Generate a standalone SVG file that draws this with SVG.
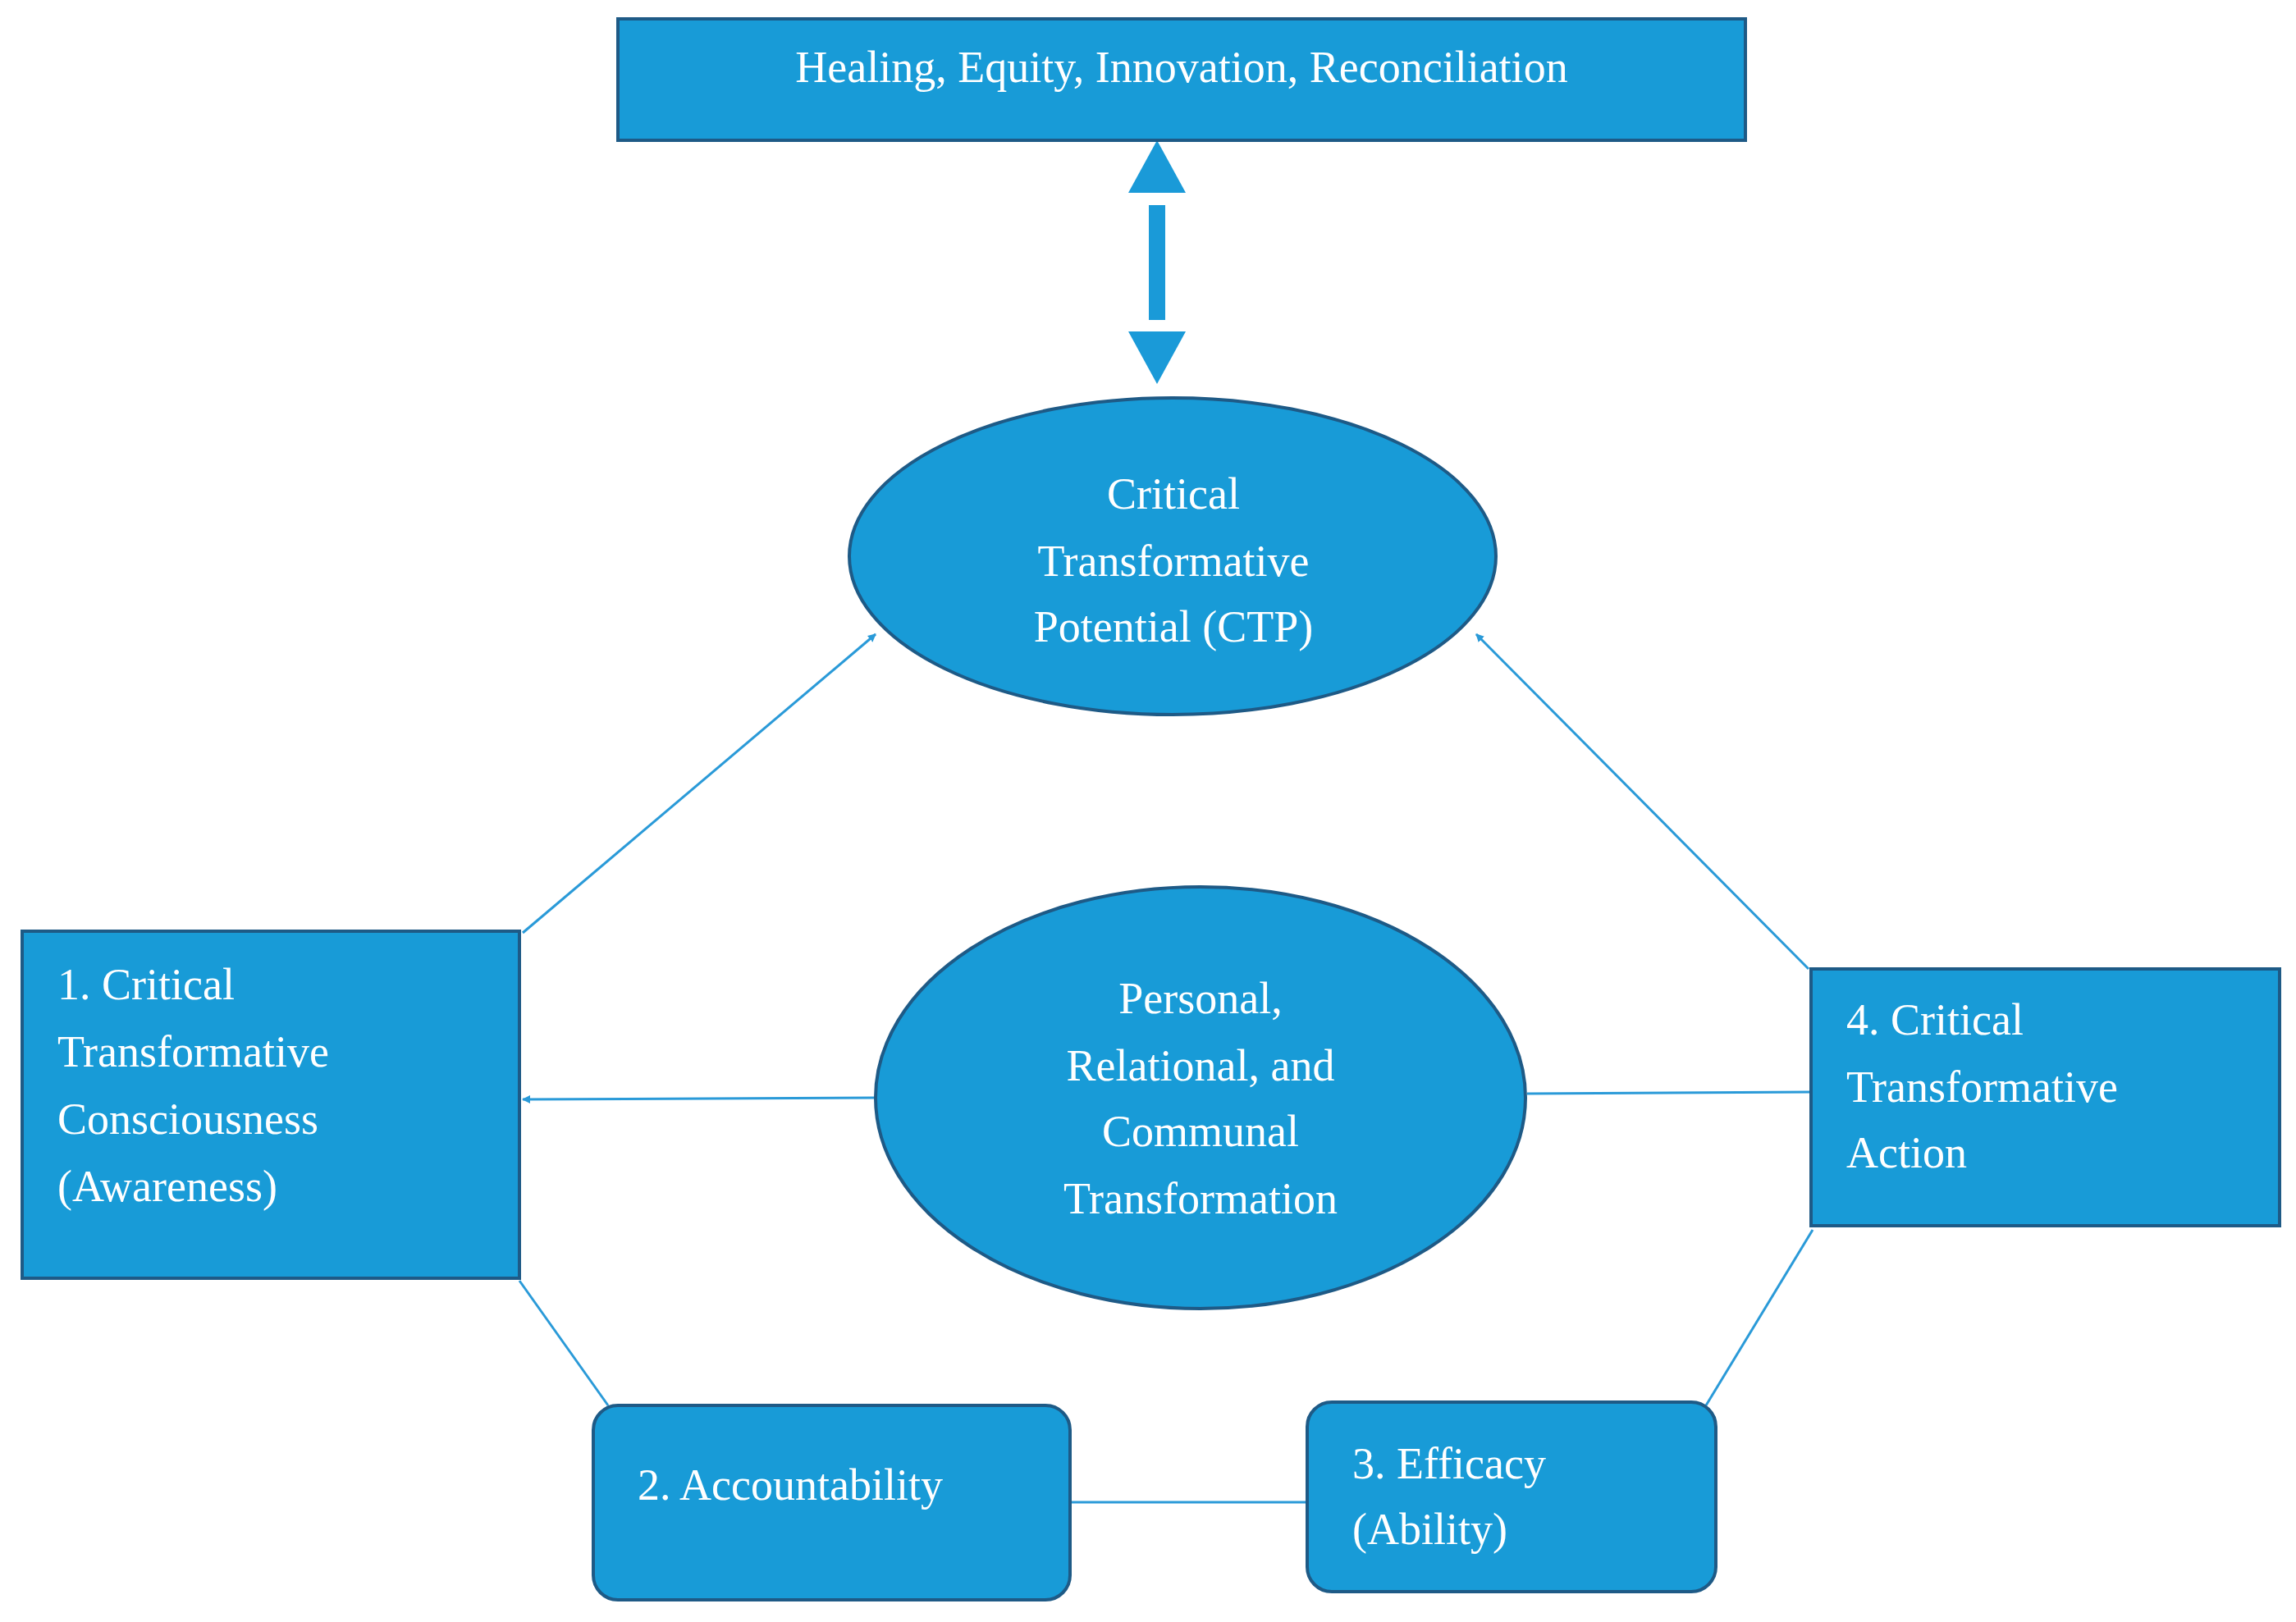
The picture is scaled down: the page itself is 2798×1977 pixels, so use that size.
<svg xmlns="http://www.w3.org/2000/svg" width="2798" height="1977" viewBox="0 0 2798 1977">
<style>
.n{fill:#189bd7;stroke:#1e5a86;stroke-width:4}
.t{font-family:"Liberation Serif",serif;font-size:54px;fill:#fff}
.c{stroke:#2a9ad8;stroke-width:3;fill:none}
</style>
<defs>
<marker id="a" viewBox="0 0 10 10" refX="9" refY="5" markerWidth="10" markerHeight="10" markerUnits="userSpaceOnUse" orient="auto"><path d="M0,0L10,5L0,10z" fill="#2a9ad8"/></marker>
<marker id="a2" viewBox="0 0 10 10" refX="9" refY="5" markerWidth="6" markerHeight="5" orient="auto"><path d="M0,0L10,5L0,10z" fill="#2a9ad8"/></marker>
</defs>
<rect width="2798" height="1977" fill="#fff"/>
<g id="connectors">
<line x1="1410" y1="250" x2="1410" y2="390" stroke="#1a9ad8" stroke-width="20"/>
<path d="M1410,171L1445,235L1375,235z" fill="#1a9ad8"/>
<path d="M1410,468L1445,404L1375,404z" fill="#1a9ad8"/>
<line class="c" x1="637" y1="1137" x2="1067" y2="773" marker-end="url(#a)" style="marker-end:url(#a)"/>
<line class="c" x1="2204" y1="1181" x2="1799" y2="773" marker-end="url(#a)"/>
<line class="c" x1="1065" y1="1338" x2="637" y2="1340" marker-end="url(#a)"/>
<line class="c" x1="1861" y1="1333" x2="2207" y2="1331"/>
<line class="c" x1="633" y1="1561" x2="741" y2="1713"/>
<line class="c" x1="1304" y1="1831" x2="1593" y2="1831"/>
<line class="c" x1="2079" y1="1713" x2="2209" y2="1499"/>
</g>
<style>marker#a path{}</style>
<g id="top"><rect class="n" x="753" y="23" width="1374" height="148"/><text class="t" x="1440" y="100" text-anchor="middle">Healing, Equity, Innovation, Reconciliation</text></g>
<g id="ctp"><ellipse class="n" cx="1429" cy="678" rx="394" ry="193"/><text class="t" text-anchor="middle"><tspan x="1430" y="620">Critical</tspan><tspan x="1430" y="702">Transformative</tspan><tspan x="1430" y="782">Potential (CTP)</tspan></text></g>
<g id="mid"><ellipse class="n" cx="1463" cy="1338" rx="396" ry="257"/><text class="t" text-anchor="middle"><tspan x="1463" y="1235">Personal,</tspan><tspan x="1463" y="1317">Relational, and</tspan><tspan x="1463" y="1397">Communal</tspan><tspan x="1463" y="1479">Transformation</tspan></text></g>
<g id="box1"><rect class="n" x="27" y="1135" width="606" height="423"/><text class="t"><tspan x="70" y="1218">1. Critical</tspan><tspan x="70" y="1300">Transformative</tspan><tspan x="70" y="1382">Consciousness</tspan><tspan x="70" y="1464">(Awareness)</tspan></text></g>
<g id="box4"><rect class="n" x="2207" y="1181" width="571" height="313"/><text class="t"><tspan x="2250" y="1261">4. Critical</tspan><tspan x="2250" y="1343">Transformative</tspan><tspan x="2250" y="1423">Action</tspan></text></g>
<g id="box2"><rect class="n" x="723" y="1713" width="581" height="237" rx="30"/><text class="t" x="777" y="1828">2. Accountability</text></g>
<g id="box3"><rect class="n" x="1593" y="1709" width="498" height="231" rx="30"/><text class="t"><tspan x="1648" y="1802">3. Efficacy</tspan><tspan x="1648" y="1882">(Ability)</tspan></text></g>
</svg>
